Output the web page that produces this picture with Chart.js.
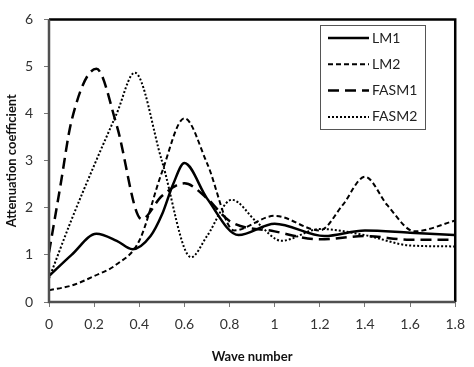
<!DOCTYPE html>
<html>
<head>
<meta charset="utf-8">
<script src="https://cdn.jsdelivr.net/npm/chart.js@4.4.1/dist/chart.umd.min.js"></script>
<style>
  html, body { margin: 0; padding: 0; background: #fff; }
  #wrap { width: 474px; height: 367px; }
</style>
</head>
<body>
<div id="wrap"><canvas id="grafico" width="474" height="367"></canvas></div>
<script>
// valori (x = wave number, y = attenuation coefficient)
let xLM1 = [0, 0.1, 0.21, 0.3, 0.37, 0.45, 0.5, 0.55, 0.6, 0.7, 0.84, 1.0, 1.22, 1.4, 1.6, 1.8]
let yLM1 = [0.55, 1.0, 1.45, 1.3, 1.12, 1.4, 1.85, 2.5, 2.95, 2.2, 1.42, 1.66, 1.4, 1.52, 1.47, 1.42]

let xLM2 = [0, 0.1, 0.2, 0.3, 0.4, 0.5, 0.6, 0.7, 0.82, 1.0, 1.2, 1.3, 1.4, 1.5, 1.62, 1.8]
let yLM2 = [0.25, 0.35, 0.55, 0.8, 1.3, 2.75, 3.9, 2.95, 1.52, 1.83, 1.52, 2.05, 2.66, 2.05, 1.5, 1.73]

let xFASM1 = [0, 0.05, 0.1, 0.21, 0.3, 0.41, 0.5, 0.6, 0.7, 0.8, 1.0, 1.2, 1.4, 1.6, 1.8]
let yFASM1 = [1.05, 2.45, 3.85, 4.95, 3.75, 1.76, 2.25, 2.52, 2.2, 1.72, 1.5, 1.33, 1.4, 1.32, 1.32]

let xFASM2 = [0, 0.1, 0.2, 0.3, 0.38, 0.5, 0.63, 0.7, 0.81, 0.92, 1.03, 1.2, 1.4, 1.6, 1.8]
let yFASM2 = [0.5, 1.75, 2.9, 4.0, 4.87, 3.0, 0.95, 1.4, 2.17, 1.7, 1.3, 1.55, 1.42, 1.2, 1.18]

let nomi = ["LM1", "LM2", "FASM1", "FASM2"]
let xTicks = [0, 0.2, 0.4, 0.6, 0.8, 1, 1.2, 1.4, 1.6, 1.8]
let yTicks = [0, 1, 2, 3, 4, 5, 6]

function punti(xs, ys){
    let out = []
    for (let i = 0; i < xs.length; i++){
        out.push({x: xs[i], y: ys[i]})
    }
    return out
}

let stili = [
    {dash: [], width: 2.5},
    {dash: [5, 3], width: 2},
    {dash: [11, 6], width: 2.5},
    {dash: [2, 2], width: 2}
]

let serie = [[xLM1, yLM1], [xLM2, yLM2], [xFASM1, yFASM1], [xFASM2, yFASM2]]
let datasets = []
for (let i = 0; i < serie.length; i++){
    datasets.push({
        label: nomi[i],
        data: punti(serie[i][0], serie[i][1]),
        borderColor: "#000",
        borderWidth: stili[i].width,
        borderDash: stili[i].dash,
        pointRadius: 0,
        fill: false,
        cubicInterpolationMode: "monotone"
    })
}

const FONT = "Lato, 'Open Sans', sans-serif"

// cornice + legenda dentro l'area del grafico
let cornice = {
    id: "cornice",
    afterDraw(chart){
        let ctx = chart.ctx
        let a = chart.chartArea
        ctx.save()
        ctx.setLineDash([])
        ctx.strokeStyle = "#000"
        ctx.lineWidth = 2.5
        ctx.beginPath()
        ctx.moveTo(a.left, a.top)
        ctx.lineTo(a.right, a.top)
        ctx.lineTo(a.right, a.bottom)
        ctx.stroke()
        ctx.strokeStyle = "#505050"
        ctx.beginPath()
        ctx.moveTo(a.left, a.top)
        ctx.lineTo(a.left, a.bottom)
        ctx.lineTo(a.right, a.bottom)
        ctx.stroke()

        // legenda
        let bx = 320, by = 25, bw = 105, bh = 104
        ctx.fillStyle = "#fff"
        ctx.fillRect(bx, by, bw, bh)
        ctx.lineWidth = 1
        ctx.strokeStyle = "#555"
        ctx.strokeRect(bx + 0.5, by + 0.5, bw, bh)
        ctx.font = "14px " + FONT
        ctx.textBaseline = "middle"
        ctx.fillStyle = "#222"
        chart.data.datasets.forEach((d, i) => {
            let yy = 38 + i * 26.3
            ctx.strokeStyle = "#000"
            ctx.lineWidth = d.borderWidth
            ctx.setLineDash(d.borderDash)
            ctx.beginPath()
            ctx.moveTo(328, yy)
            ctx.lineTo(369, yy)
            ctx.stroke()
            ctx.setLineDash([])
            ctx.fillText(d.label, 372, yy)
        })
        ctx.restore()
    }
}

let grafico = new Chart(document.getElementById("grafico"), {
    type: "line",
    data: {datasets: datasets},
    plugins: [cornice],
    options: {
        responsive: false,
        animation: false,
        layout: {padding: {top: 6, right: 11, left: 0, bottom: 0}},
        plugins: {
            legend: {display: false},
            tooltip: {enabled: false}
        },
        scales: {
            x: {
                type: "linear",
                min: 0,
                max: 1.8,
                afterBuildTicks: (s) => { s.ticks = xTicks.map(v => ({value: v})) },
                afterFit: (s) => { s.height = 65 },
                border: {display: false},
                grid: {drawOnChartArea: false, drawTicks: true, tickLength: 5, color: "#777"},
                ticks: {
                    color: "#333",
                    font: {family: FONT, size: 14},
                    padding: 9,
                    maxRotation: 0,
                    callback: (v) => String(v)
                },
                title: {
                    display: true,
                    text: "Wave number",
                    color: "#111",
                    font: {family: FONT, size: 13, weight: "bold"},
                    padding: {top: 0, bottom: 2}
                }
            },
            y: {
                min: 0,
                max: 6,
                afterBuildTicks: (s) => { s.ticks = yTicks.map(v => ({value: v})) },
                afterFit: (s) => { s.width = 49 },
                border: {display: false},
                grid: {drawOnChartArea: false, drawTicks: true, tickLength: 5, color: "#777"},
                ticks: {
                    color: "#333",
                    font: {family: FONT, size: 14},
                    padding: 11,
                    callback: (v) => String(v)
                },
                title: {
                    display: true,
                    text: "Attenuation coefficient",
                    color: "#111",
                    font: {family: FONT, size: 13, weight: "bold"},
                    padding: {top: 4, bottom: 0}
                }
            }
        }
    }
})
</script>
</body>
</html>
